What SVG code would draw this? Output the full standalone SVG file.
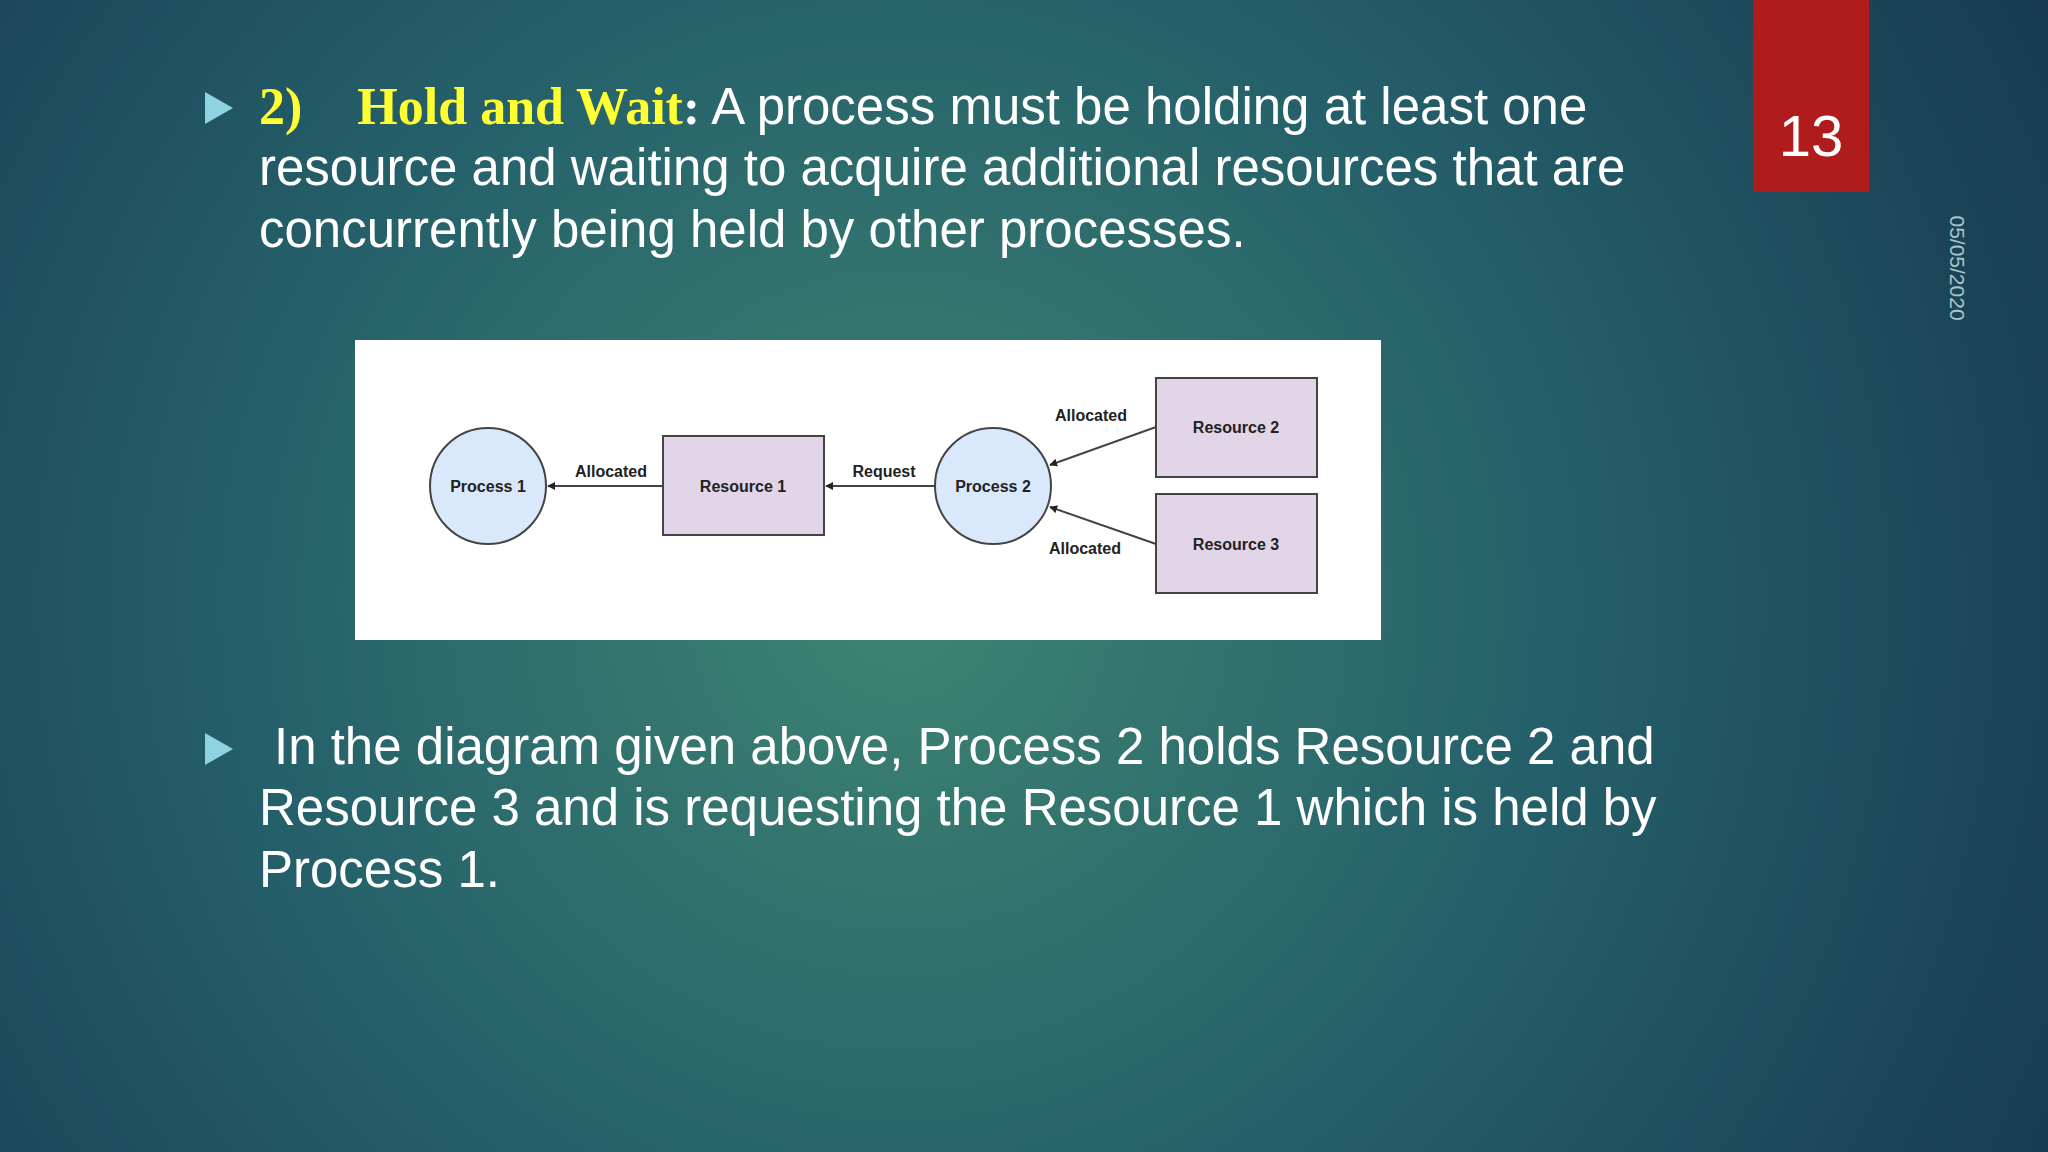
<svg xmlns="http://www.w3.org/2000/svg" width="2048" height="1152" viewBox="0 0 2048 1152">
<defs>
<radialGradient id="bg" cx="900" cy="600" r="1300" gradientUnits="userSpaceOnUse">
<stop offset="0" stop-color="#3e8472"/>
<stop offset="0.5" stop-color="#25606a"/>
<stop offset="1" stop-color="#173a4f"/>
</radialGradient>
<marker id="ah" viewBox="0 0 10 10" refX="9" refY="5" markerWidth="8" markerHeight="8" markerUnits="userSpaceOnUse" orient="auto"><path d="M0,0 L10,5 L0,10 z" fill="#222"/></marker>
<style>
.t{font-family:"Liberation Sans",Arial,sans-serif;font-size:51px;fill:#fff}
.y{font-family:"Liberation Serif","Times New Roman",serif;font-weight:bold;fill:#ffff33;font-size:52px}
.c{fill:#dae8fc;stroke:#444;stroke-width:2}
.r{fill:#e1d5e7;stroke:#444;stroke-width:2}
.l{font-family:"Liberation Sans",Arial,sans-serif;font-size:16px;font-weight:bold;fill:#222}
.e{stroke:#444;stroke-width:2;fill:none;marker-end:url(#ah)}
.b{fill:#8fd3e0}
</style>
</defs>
<rect width="2048" height="1152" fill="url(#bg)"/>
<rect x="1753" y="0" width="116" height="192" fill="#b01c1c"/>
<text x="1811" y="156" font-family="Liberation Sans,Arial,sans-serif" font-size="58" fill="#fff" text-anchor="middle">13</text>
<text transform="translate(1950,268) rotate(90)" font-family="Liberation Sans,Arial,sans-serif" font-size="21" fill="#a9c4c8" text-anchor="middle">05/05/2020</text>
<path class="b" d="M205,92 L233,108 L205,124 z"/>
<text class="t" x="259" y="124"><tspan class="y">2)</tspan><tspan class="y" dx="55">Hold and Wait</tspan><tspan font-family="Liberation Serif,serif" font-weight="bold">:</tspan> A process must be holding at least one</text>
<text class="t" x="259" y="185">resource and waiting to acquire additional resources that are</text>
<text class="t" x="259" y="247">concurrently being held by other processes.</text>
<rect x="355" y="340" width="1026" height="300" fill="#fff"/>
<g id="connectors">
<line class="e" x1="663" y1="486" x2="548" y2="486"/>
<line class="e" x1="935" y1="486" x2="826" y2="486"/>
<line class="e" x1="1156" y1="427" x2="1050" y2="465"/>
<line class="e" x1="1156" y1="544" x2="1050" y2="507"/>
<text class="l" x="611" y="477" text-anchor="middle">Allocated</text>
<text class="l" x="884" y="477" text-anchor="middle">Request</text>
<text class="l" x="1091" y="421" text-anchor="middle">Allocated</text>
<text class="l" x="1085" y="554" text-anchor="middle">Allocated</text>
</g>
<g id="p1"><ellipse class="c" cx="488" cy="486" rx="58" ry="58"/><text class="l" x="488" y="492" text-anchor="middle">Process 1</text></g>
<g id="r1"><rect class="r" x="663" y="436" width="161" height="99"/><text class="l" x="743" y="492" text-anchor="middle">Resource 1</text></g>
<g id="p2"><ellipse class="c" cx="993" cy="486" rx="58" ry="58"/><text class="l" x="993" y="492" text-anchor="middle">Process 2</text></g>
<g id="r2"><rect class="r" x="1156" y="378" width="161" height="99"/><text class="l" x="1236" y="433" text-anchor="middle">Resource 2</text></g>
<g id="r3"><rect class="r" x="1156" y="494" width="161" height="99"/><text class="l" x="1236" y="550" text-anchor="middle">Resource 3</text></g>
<path class="b" d="M205,733 L233,749 L205,765 z"/>
<text class="t" x="274" y="764">In the diagram given above, Process 2 holds Resource 2 and</text>
<text class="t" x="259" y="825">Resource 3 and is requesting the Resource 1 which is held by</text>
<text class="t" x="259" y="887">Process 1.</text>
</svg>
